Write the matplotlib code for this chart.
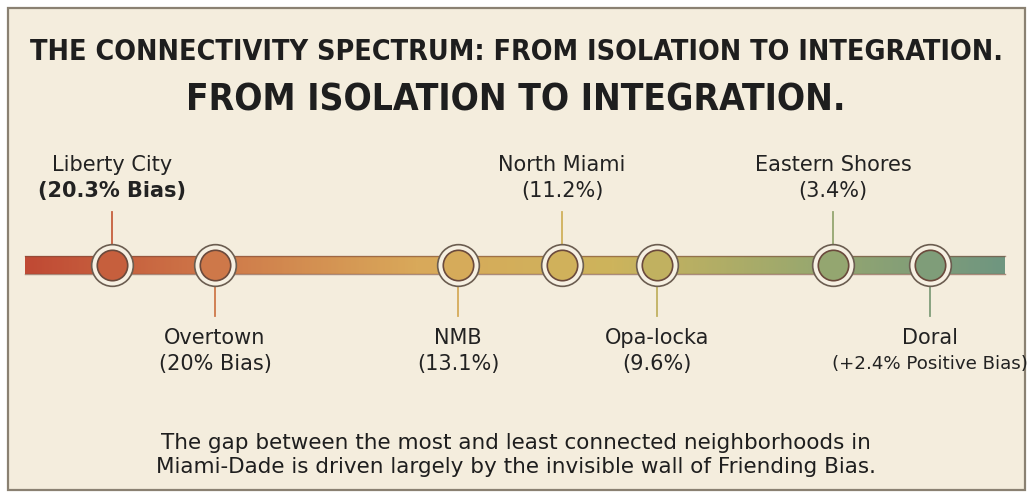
import matplotlib
matplotlib.use('Agg')
import matplotlib.pyplot as plt
import numpy as np
from matplotlib.colors import LinearSegmentedColormap
from matplotlib.patches import FancyBboxPatch

# Data
names = ['Liberty City', 'Overtown', 'NMB', 'North Miami', 'Opa-locka', 'Eastern Shores', 'Doral']
labels = ['(20.3% Bias)', '(20% Bias)', '(13.1%)', '(11.2%)', '(9.6%)', '(3.4%)', '(+2.4% Positive Bias)']
spectrum_pos = [112, 215, 458, 562, 657, 833, 930]   # position along the spectrum (pixel scale)
above = [True, False, False, True, False, True, False]

title_lines = ['THE CONNECTIVITY SPECTRUM: FROM ISOLATION TO INTEGRATION.',
               'FROM ISOLATION TO INTEGRATION.']
caption = ('The gap between the most and least connected neighborhoods in\n'
           'Miami-Dade is driven largely by the invisible wall of Friending Bias.')

bg = '#f4eddd'
fig = plt.figure(figsize=(10.33, 5.0), dpi=100, facecolor='white')
ax = fig.add_axes([0, 0, 1, 1])
ax.set_xlim(0, 1033)
ax.set_ylim(500, 0)
ax.axis('off')

# paper background with sketchy border
ax.add_patch(FancyBboxPatch((8, 8), 1017, 482, boxstyle='square,pad=0',
                            facecolor=bg, edgecolor='#8a8172', linewidth=1.6))


def fit_text(x, y, s, width_px, size, **kw):
    # shrink the font until the text fits the width seen in the reference
    t = ax.text(x, y, s, ha='center', va='center', fontsize=size, **kw)
    r = fig.canvas.get_renderer()
    w = t.get_window_extent(r).width
    if w > width_px:
        t.set_fontsize(size * width_px / w)
    return t


fit_text(516, 52, title_lines[0], 975, 28, fontweight='bold',
         fontstretch='condensed', color='#1e1e1e')
fit_text(516, 100, title_lines[1], 660, 32, fontweight='bold',
         fontstretch='condensed', color='#1e1e1e')

# gradient bar
cmap = LinearSegmentedColormap.from_list('spec', ['#c04a34', '#cf7a4a', '#d9a95a',
                                                   '#cdb45c', '#9aa86e', '#6f9680'])
bar_y, bar_h = 265, 18
x0, x1 = 25, 1005
grad = np.linspace(0, 1, 400).reshape(1, -1)
ax.imshow(grad, cmap=cmap, extent=[x0, x1, bar_y + bar_h / 2, bar_y - bar_h / 2],
          aspect='auto', zorder=2)
ax.plot([x0, x1], [bar_y - bar_h / 2, bar_y - bar_h / 2], color='#7a4a3a', lw=1, zorder=3, alpha=0.6)
ax.plot([x0, x1], [bar_y + bar_h / 2, bar_y + bar_h / 2], color='#7a4a3a', lw=1, zorder=3, alpha=0.6)

for name, lab, x, up in zip(names, labels, spectrum_pos, above):
    c = cmap((x - x0) / (x1 - x0))
    ax.scatter([x], [bar_y], s=900, color='#f6f0e2', edgecolor='#6b5d50', lw=1.2, zorder=4)
    ax.scatter([x], [bar_y], s=480, color=c, edgecolor='#6b4a3c', lw=1.2, zorder=5)
    if up:
        ax.plot([x, x], [212, bar_y - 17], color=c, lw=1.3, zorder=3)
        ax.text(x, 165, name, ha='center', va='center', fontsize=15, color='#222')
        ax.text(x, 191, lab, ha='center', va='center', fontsize=15, color='#222',
                fontweight='bold' if name == 'Liberty City' else 'normal')
    else:
        ax.plot([x, x], [bar_y + 17, 316], color=c, lw=1.3, zorder=3)
        ax.text(x, 338, name, ha='center', va='center', fontsize=15, color='#222')
        fit_text(x, 364, lab, 196, 15, color='#222')

ax.text(516, 455, caption, ha='center', va='center', fontsize=15.5, color='#1e1e1e',
        linespacing=1.25)

plt.savefig('out.png', dpi=100, facecolor='white')
plt.close()
